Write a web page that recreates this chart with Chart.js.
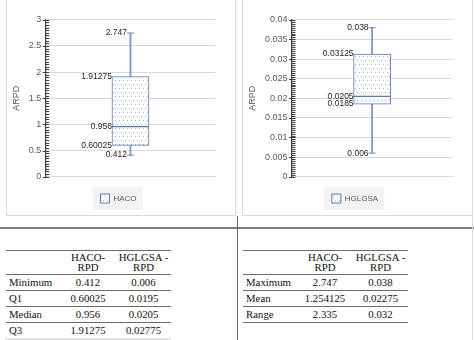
<!DOCTYPE html>
<html>
<head>
<meta charset="utf-8">
<script src="https://cdn.jsdelivr.net/npm/chart.js@4.4.1/dist/chart.umd.min.js"></script>
<style>
  html, body { margin: 0; padding: 0; background: #fff; width: 474px; height: 340px; overflow: hidden; position: relative; }
  .panel { position: absolute; top: -1px; height: 217px; border: 1px solid #d9d9d9; box-sizing: border-box; background: #fff; }
  #p1 { left: 6px; width: 230px; }
  #p2 { left: 242px; width: 231px; }
  .panel canvas { display: block; }
  .rule-h { position: absolute; left: 0; top: 227px; width: 474px; height: 1.5px; background: #7a7a7a; }
  .rule-v { position: absolute; left: 236.5px; top: 216px; width: 1.3px; height: 124px; background: #6a6a6a; }
  .rule-r { position: absolute; left: 472px; top: 216px; width: 1px; height: 124px; background: #dcdcdc; }
  .strip { position: absolute; left: 5px; top: 337.5px; width: 166px; height: 3px; background: #e2e2e2; }
  table.stats { position: absolute; top: 250px; width: 165px; border-collapse: collapse; table-layout: fixed;
    font: 10.8px "Liberation Serif", "Times New Roman", serif; color: #111; border-top: 1.3px solid #6b6b6b; }
  table.stats th { font-weight: normal; line-height: 10px; height: 22.5px; padding: 0; text-align: center;
    vertical-align: middle; border-bottom: 1.3px solid #6b6b6b; }
  table.stats td { height: 15px; line-height: 15px; padding: 0; text-align: center; border-bottom: 1.3px solid #6b6b6b; }
  table.stats td:first-child { text-align: left; padding-left: 3px; }
  table.stats tr.open td { border-bottom: none; }
</style>
</head>
<body>
<div class="panel" id="p1"><canvas id="c1" width="228" height="215"></canvas></div>
<div class="panel" id="p2"><canvas id="c2" width="229" height="215"></canvas></div>
<div class="rule-h"></div>
<div class="rule-v"></div>
<div class="rule-r"></div>

<table class="stats" id="t1" style="left:6px">
  <colgroup><col style="width:54px"><col style="width:56px"><col style="width:55px"></colgroup>
  <thead><tr><th></th><th>HACO-<br>RPD</th><th>HGLGSA -<br>RPD</th></tr></thead>
  <tbody></tbody>
</table>
<table class="stats" id="t2" style="left:243px">
  <colgroup><col style="width:54px"><col style="width:56px"><col style="width:55px"></colgroup>
  <thead><tr><th></th><th>HACO-<br>RPD</th><th>HGLGSA -<br>RPD</th></tr></thead>
  <tbody></tbody>
</table>
<div class="strip"></div>

<script>
// box plot values per method
const categories = ['HACO', 'HGLGSA'];
const boxMin = [0.412, 0.006];
const boxQ1 = [0.60025, 0.0185];
const boxMedian = [0.956, 0.0205];
const boxQ3 = [1.91275, 0.03125];
const boxMax = [2.747, 0.038];

// y axis of each box plot
const axisMax = [3, 0.04];
const axisMajorStep = [0.5, 0.005];
const axisMinorStep = [0.05, 0.0005];

// summary tables
const leftRows = ['Minimum', 'Q1', 'Median', 'Q3'];
const leftHaco = ['0.412', '0.60025', '0.956', '1.91275'];
const leftHglgsa = ['0.006', '0.0195', '0.0205', '0.02775'];
const rightRows = ['Maximum', 'Mean', 'Range'];
const rightHaco = ['2.747', '1.254125', '2.335'];
const rightHglgsa = ['0.038', '0.02275', '0.032'];

const BOX_EDGE = '#5b77b0';
const WHISKER = '#8298c8';
const CAP_RADIUS = 3.5;
const SANS = '"Liberation Sans", Arial, sans-serif';

function fillTable(id, rows, a, b, openLast) {
  const body = document.querySelector('#' + id + ' tbody');
  rows.forEach((name, i) => {
    const tr = document.createElement('tr');
    if (openLast && i === rows.length - 1) tr.className = 'open';
    [name, a[i], b[i]].forEach(text => {
      const td = document.createElement('td');
      td.textContent = text;
      tr.appendChild(td);
    });
    body.appendChild(tr);
  });
}
fillTable('t1', leftRows, leftHaco, leftHglgsa, true);
fillTable('t2', rightRows, rightHaco, rightHglgsa, false);

// light dotted fill used for the box and its legend swatch
const dots = (() => {
  const c = document.createElement('canvas');
  c.width = 4; c.height = 8;
  const g = c.getContext('2d');
  g.fillStyle = '#ffffff';
  g.fillRect(0, 0, 4, 8);
  g.fillStyle = '#9fb1d8';
  g.fillRect(0, 0, 1, 1);
  g.fillRect(2, 4, 1, 1);
  return g.createPattern(c, 'repeat');
})();

const isMajor = (v, step) => Math.abs(v / step - Math.round(v / step)) < 1e-6;

// value labels left of the box / whisker caps
const valueLabels = {
  id: 'valueLabels',
  afterDatasetsDraw(chart, args, opts) {
    const { ctx } = chart;
    const y = chart.scales.y;
    const bar = chart.getDatasetMeta(opts.boxIndex).data[0];
    const boxLeft = bar.x - bar.width / 2;
    const capLeft = bar.x - CAP_RADIUS;
    ctx.save();
    ctx.font = '8.5px ' + SANS;
    ctx.fillStyle = '#1e1e1e';
    ctx.textAlign = 'right';
    ctx.textBaseline = 'middle';
    opts.items.forEach(([value, atBox]) => {
      ctx.fillText(String(value), (atBox ? boxLeft : capLeft), y.getPixelForValue(value));
    });
    ctx.restore();
  }
};

// major ticks cross the axis, minor ticks sit inside
const axisTicks = {
  id: 'axisTicks',
  afterDraw(chart, args, opts) {
    const { ctx } = chart;
    const s = chart.scales.y;
    const x = s.right;
    ctx.save();
    ctx.strokeStyle = '#404040';
    ctx.lineWidth = 1;
    ctx.beginPath();
    s.ticks.forEach((t, i) => {
      const y = Math.round(s.getPixelForTick(i)) + 0.5;
      ctx.moveTo(isMajor(t.value, opts.major) ? x - 3 : x, y);
      ctx.lineTo(x + 3.5, y);
    });
    ctx.stroke();
    ctx.restore();
  }
};

// pale backdrop behind the legend entry
const legendBackdrop = {
  id: 'legendBackdrop',
  beforeDraw(chart) {
    const box = chart.legend && chart.legend.legendHitBoxes && chart.legend.legendHitBoxes[0];
    if (!box) return;
    const cy = box.top + box.height / 2;
    const { ctx } = chart;
    ctx.save();
    ctx.fillStyle = '#f3f3f3';
    ctx.fillRect(box.left - 8, cy - 11.5, box.width + 14, 23);
    ctx.restore();
  }
};

function boxPlot(canvasId, k, axisWidth) {
  const name = categories[k];
  const major = axisMajorStep[k];
  return new Chart(document.getElementById(canvasId), {
    type: 'bar',
    data: {
      labels: [name],
      datasets: [
        {
          label: 'lower whisker', data: [[boxMin[k], boxQ1[k]]],
          backgroundColor: WHISKER, barThickness: 1.2, grouped: false, order: 3
        },
        {
          label: 'upper whisker', data: [[boxQ3[k], boxMax[k]]],
          backgroundColor: WHISKER, barThickness: 1.2, grouped: false, order: 3
        },
        {
          label: name, data: [[boxQ1[k], boxQ3[k]]],
          backgroundColor: dots, borderColor: BOX_EDGE, borderWidth: 1, borderSkipped: false,
          barThickness: 37, grouped: false, order: 2
        },
        {
          type: 'line', label: 'median', data: [boxMedian[k]], showLine: false,
          pointStyle: 'line', pointRadius: 18.5, borderColor: BOX_EDGE, borderWidth: 1.3, order: 1
        },
        {
          type: 'line', label: 'min cap', data: [boxMin[k]], showLine: false,
          pointStyle: 'line', pointRadius: CAP_RADIUS, borderColor: WHISKER, borderWidth: 1.2, order: 1
        },
        {
          type: 'line', label: 'max cap', data: [boxMax[k]], showLine: false,
          pointStyle: 'line', pointRadius: CAP_RADIUS, borderColor: WHISKER, borderWidth: 1.2, order: 1
        }
      ]
    },
    options: {
      responsive: false,
      animation: false,
      devicePixelRatio: 1,
      layout: { padding: { top: 4.1, right: 5, left: 0, bottom: 2 } },
      plugins: {
        tooltip: { enabled: false },
        legend: {
          position: 'bottom',
          labels: {
            filter: item => item.datasetIndex === 2,
            boxWidth: 9, boxHeight: 9, padding: 17.3,
            color: '#595959',
            font: { family: SANS, size: 8 }
          }
        },
        valueLabels: {
          boxIndex: 2,
          items: [[boxMax[k], false], [boxQ3[k], true], [boxMedian[k], true], [boxQ1[k], true], [boxMin[k], false]]
        },
        axisTicks: { major }
      },
      scales: {
        x: {
          ticks: { display: false },
          grid: { display: false, drawTicks: false },
          border: { color: '#d9d9d9', width: 1 },
          afterFit: s => { s.height = 0; }
        },
        y: {
          min: 0, max: axisMax[k],
          afterFit: s => { s.width = axisWidth; },
          ticks: {
            stepSize: axisMinorStep[k], autoSkip: false, padding: 4.5,
            color: '#595959',
            font: { family: SANS, size: 9 },
            callback: v => isMajor(v, major) ? String(parseFloat(v.toFixed(4))) : ''
          },
          grid: {
            drawTicks: false,
            color: c => (c.tick && isMajor(c.tick.value, major)) ? '#d9d9d9' : 'rgba(0,0,0,0)'
          },
          border: { color: '#404040', width: 1.2 },
          title: {
            display: true, text: 'ARPD', color: '#595959',
            font: { family: SANS, size: 9 },
            padding: { top: 4.6, bottom: 0 }
          }
        }
      }
    },
    plugins: [legendBackdrop, valueLabels, axisTicks]
  });
}

boxPlot('c1', 0, 38.7);
boxPlot('c2', 1, 49);
</script>
</body>
</html>
